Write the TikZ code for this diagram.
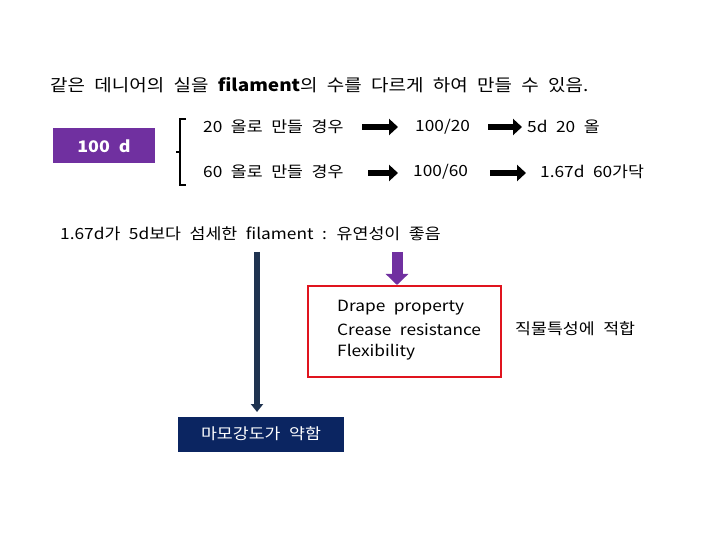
\documentclass[tikz,border=0pt]{standalone}
\usepackage{fontspec}
\setmainfont{Noto Sans CJK KR}[FakeStretch=1.12, WordSpace=2.2]
\usetikzlibrary{arrows.meta}
\definecolor{boxpurple}{HTML}{7030A0}
\definecolor{boxnavy}{HTML}{0B2561}
\definecolor{arrnavy}{HTML}{1F3350}
\definecolor{boxred}{HTML}{E0141E}
\begin{document}
\begin{tikzpicture}[x=1bp,y=-1bp]
		% Styles for text and arrows
		\tikzset{txt/.style={anchor=west, inner sep=0pt, font=\fontsize{15.5}{18}\selectfont},
			fat/.style={line width=6bp, -{Triangle[length=9bp,width=16bp]}}}
		\useasboundingbox (0,0) rectangle (720,540);
		
		% Title line
		\node[txt, font=\fontsize{17}{20}\selectfont] (title) at (50,85) {같은 데니어의 실을 \textbf{filament}의 수를 다르게 하여 만들 수 있음.};
		
		% Purple box and bracket
		\node[fill=boxpurple, text=white, minimum width=102bp, minimum height=35bp, inner sep=0pt,
			font=\fontsize{16}{18}\selectfont\bfseries] (hund) at (104,146) {100 d};
		\draw[line width=1.5bp] (186,119) -- (180,119) -- (180,185) -- (186,185);
		\draw[line width=1.5bp] (180,152) -- (176,152);
		
		% Two rows
		\node[txt] (r1) at (203,127) {20 올로 만들 경우};
		\node[txt] (r2) at (203,172) {60 올로 만들 경우};
		\node[txt] (a1) at (415,127) {100/20};
		\node[txt] (a2) at (413,172) {100/60};
		\node[txt] (b1) at (527,127) {5d 20 올};
		\node[txt] (b2) at (540,172) {1.67d 60가닥};
		\coordinate (p1) at (362,127); \coordinate (q1) at (398,127);
		\coordinate (p2) at (368,173); \coordinate (q2) at (398,173);
		\coordinate (p3) at (488,127); \coordinate (q3) at (522,127);
		\coordinate (p4) at (490,173); \coordinate (q4) at (526,173);
		\foreach \s/\e in {p1/q1,p2/q2,p3/q3,p4/q4}
			\draw[fat] (\s) -- (\e);
		
		% Conclusion line
		\node[txt] (conc) at (60,234) {1.67d가 5d보다 섬세한 filament : 유연성이 좋음};
		
		% Navy arrow and box
		\node[fill=boxnavy, text=white, minimum width=166bp, minimum height=35bp, inner sep=0pt,
			font=\fontsize{15.5}{18}\selectfont] (weak) at (261,434) {마모강도가 약함};
		\coordinate (nv) at (257,252);
		\draw[arrnavy, line width=6bp, -{Triangle[length=8bp,width=12bp]}] (nv) -- (257,412);
		
		% Red box with purple arrow
		\node[draw=boxred, line width=2bp, minimum width=193bp, minimum height=91bp] (props) at (404.5,331.5) {};
		\node[txt] at (337,308) {Drape property};
		\node[txt] at (337,330) {Crease resistance};
		\node[txt] at (337,352) {Flexibility};
		\coordinate (pv) at (397,252);
		\draw[boxpurple, line width=11bp, -{Triangle[length=11bp,width=22bp]}] (pv) -- (pv |- props.north);
		\node[txt] (fit) at (515,329) {직물특성에 적합};
	\end{tikzpicture}
\end{document}
